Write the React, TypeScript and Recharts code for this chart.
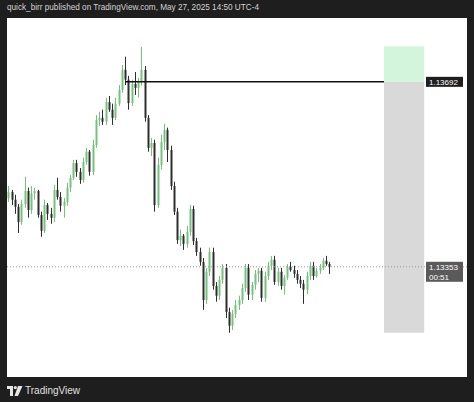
import React from "react"
import { ComposedChart, Bar, XAxis, YAxis, ReferenceArea, ReferenceLine } from "recharts"

// EURUSD-style 1m candles, bar index -> OHLC
const open = [
  1.13479, 1.1349, 1.13476, 1.13463, 1.13435, 1.13468, 1.13492, 1.13457, 1.13488, 1.13492,
  1.13448, 1.13419, 1.13466, 1.1345, 1.13443, 1.13494, 1.13481, 1.13465, 1.13472, 1.13498,
  1.13516, 1.13543, 1.13527, 1.13512, 1.13545, 1.13564, 1.13527, 1.13576, 1.13622, 1.13626,
  1.13619, 1.13655, 1.13641, 1.13626, 1.13652, 1.13677, 1.13714, 1.13696, 1.13653, 1.13688,
  1.13681, 1.13692, 1.13714, 1.13626, 1.13571, 1.1358, 1.13466, 1.1354, 1.13582, 1.13604,
  1.13567, 1.13501, 1.13454, 1.13402, 1.1341, 1.13395, 1.13417, 1.13459, 1.134, 1.1338,
  1.13362, 1.13292, 1.13344, 1.1338, 1.13318, 1.133, 1.13329, 1.13351, 1.1327, 1.13245,
  1.13267, 1.13283, 1.13292, 1.13314, 1.13351, 1.13302, 1.1332, 1.1334, 1.13346, 1.13296,
  1.13336, 1.13355, 1.13366, 1.13325, 1.13344, 1.13318, 1.13333, 1.13353, 1.13347, 1.1334,
  1.13329, 1.13322, 1.13311, 1.13336, 1.13355, 1.13336, 1.13346, 1.13351, 1.13364, 1.13358,
]
const high = [
  1.13501, 1.13494, 1.13485, 1.13468, 1.13476, 1.13518, 1.13498, 1.13501, 1.13498, 1.13494,
  1.13454, 1.13476, 1.1347, 1.13461, 1.13503, 1.13516, 1.1349, 1.13479, 1.13507, 1.13521,
  1.13549, 1.13549, 1.13534, 1.13553, 1.13571, 1.13567, 1.13586, 1.13631, 1.13637, 1.13641,
  1.13663, 1.13666, 1.13652, 1.13663, 1.13686, 1.13723, 1.13738, 1.13703, 1.13696, 1.1371,
  1.13699, 1.13756, 1.13721, 1.13631, 1.13589, 1.13586, 1.13553, 1.13595, 1.13615, 1.13608,
  1.13575, 1.13509, 1.13461, 1.13421, 1.13413, 1.13428, 1.13466, 1.13465, 1.13406, 1.13388,
  1.13369, 1.13351, 1.13388, 1.13388, 1.13325, 1.13336, 1.13358, 1.13358, 1.13278, 1.13274,
  1.13292, 1.133, 1.13322, 1.13358, 1.13358, 1.13325, 1.13347, 1.13351, 1.13351, 1.13344,
  1.13362, 1.13373, 1.13373, 1.13351, 1.13351, 1.13338, 1.13358, 1.13362, 1.13355, 1.13347,
  1.13336, 1.13329, 1.13344, 1.13362, 1.13362, 1.13351, 1.13358, 1.13369, 1.13373, 1.13362,
]
const low = [
  1.13472, 1.13466, 1.1345, 1.13415, 1.1343, 1.13461, 1.13443, 1.1345, 1.13476, 1.13443,
  1.13408, 1.13415, 1.13439, 1.13432, 1.13435, 1.13476, 1.13454, 1.13443, 1.13465, 1.1349,
  1.13512, 1.13518, 1.13505, 1.13507, 1.1354, 1.1352, 1.13521, 1.13571, 1.13611, 1.13613,
  1.13613, 1.13637, 1.13613, 1.13622, 1.13648, 1.13672, 1.13686, 1.13641, 1.13648, 1.13668,
  1.13663, 1.13685, 1.13619, 1.13564, 1.13556, 1.13454, 1.13461, 1.13531, 1.13567, 1.13545,
  1.13494, 1.13448, 1.13395, 1.13391, 1.13384, 1.13388, 1.1341, 1.13393, 1.13373, 1.13355,
  1.13274, 1.13285, 1.13336, 1.13311, 1.13289, 1.13292, 1.13322, 1.13259, 1.13232, 1.13237,
  1.13259, 1.13274, 1.13285, 1.13307, 1.13292, 1.13292, 1.13311, 1.13325, 1.13289, 1.13289,
  1.13329, 1.13347, 1.1332, 1.13318, 1.13311, 1.13302, 1.13329, 1.13344, 1.13333, 1.13322,
  1.13314, 1.13285, 1.13303, 1.13329, 1.13329, 1.13333, 1.1334, 1.13347, 1.13355, 1.1334,
]
const close = [
  1.1349, 1.13476, 1.13463, 1.13435, 1.13468, 1.13492, 1.13457, 1.13488, 1.13492, 1.13448,
  1.13419, 1.13466, 1.1345, 1.13443, 1.13494, 1.13481, 1.13465, 1.13472, 1.13498, 1.13516,
  1.13543, 1.13527, 1.13512, 1.13545, 1.13564, 1.13527, 1.13576, 1.13622, 1.13626, 1.13619,
  1.13655, 1.13641, 1.13626, 1.13652, 1.13677, 1.13714, 1.13696, 1.13653, 1.13688, 1.13681,
  1.13692, 1.13714, 1.13626, 1.13571, 1.1358, 1.13466, 1.1354, 1.13582, 1.13604, 1.13567,
  1.13501, 1.13454, 1.13402, 1.1341, 1.13395, 1.13417, 1.13459, 1.134, 1.1338, 1.13362,
  1.13292, 1.13344, 1.1338, 1.13318, 1.133, 1.13329, 1.13351, 1.1327, 1.13245, 1.13267,
  1.13283, 1.13292, 1.13314, 1.13351, 1.13302, 1.1332, 1.1334, 1.13346, 1.13296, 1.13336,
  1.13355, 1.13366, 1.13325, 1.13344, 1.13318, 1.13333, 1.13353, 1.13347, 1.1334, 1.13329,
  1.13322, 1.13311, 1.13336, 1.13355, 1.13336, 1.13346, 1.13351, 1.13364, 1.13358, 1.13353,
]

// long position tool
const ENTRY = 1.13692
const TARGET = 1.13757
const STOP = 1.13232
const POS_FROM = 115.8
const POS_TO = 128.2
const LINE_FROM = 36
const LAST_PRICE = 1.13353
const COUNTDOWN = "00:51"

const HEADER = "quick_birr published on TradingView.com, May 27, 2025 14:50 UTC-4"

const data = close.map((c, i) => ({
  i,
  open: open[i],
  high: high[i],
  low: low[i],
  close: c,
}))

const UP = "#72c47a"
const DOWN = "#2e2e2e"
const FONT = "'Liberation Sans', Arial, sans-serif"

const Candle = (props: any) => {
  const { x, y, width, height, payload } = props
  const { open: o, high: h, low: l, close: c } = payload
  const range = h - l || 1e-9
  const cx = Math.round(x + width / 2)
  const top = y + ((h - Math.max(o, c)) / range) * height
  const bot = y + ((h - Math.min(o, c)) / range) * height
  const color = c >= o ? UP : DOWN
  return (
    <g>
      <line x1={cx + 0.5} x2={cx + 0.5} y1={y} y2={y + height} stroke={color} strokeWidth={1} />
      <rect x={cx - 0.5} y={top} width={2} height={Math.max(bot - top, 1)} fill={color} />
    </g>
  )
}

const PriceTag = ({ viewBox, lines, bg }: any) => {
  const { x, y, width } = viewBox
  const left = x + width - 41
  const h = lines.length * 10
  const top = y - 5
  return (
    <g>
      <rect x={left} y={top} width={37} height={h} fill={bg} />
      {lines.map((t: string, k: number) => (
        <text
          key={k}
          x={left + 3}
          y={top + 8 + k * 10}
          fill="#ffffff"
          fontSize={8}
          fontFamily={FONT}
        >
          {t}
        </text>
      ))}
    </g>
  )
}

const Logo = () => (
  <svg width={16} height={10} viewBox="0 0 16 10">
    <path d="M0 0 H6 V10 H3 V3 H0 Z" fill="#e6e6e6" />
    <circle cx={8.3} cy={1.6} r={1.6} fill="#e6e6e6" />
    <path d="M11 0 H15.5 L11 10 H7.5 Z" fill="#e6e6e6" />
  </svg>
)

export default function App() {
  return (
    <div
      style={{
        position: "absolute",
        left: 0,
        top: 0,
        width: 474,
        height: 402,
        background: "#1e1e1e",
        overflow: "hidden",
      }}
    >
      <div
        style={{
          position: "absolute",
          left: 7,
          top: 3,
          fontFamily: FONT,
          fontSize: 8.2,
          color: "#d4d4d4",
          whiteSpace: "nowrap",
        }}
      >
        {HEADER}
      </div>
      <div style={{ position: "absolute", left: 7, top: 18, width: 460, height: 359, background: "#ffffff" }}>
        <ComposedChart width={460} height={359} data={data} margin={{ top: 0, right: 0, bottom: 0, left: 0 }}>
          <XAxis dataKey="i" type="number" domain={[-0.463, 141.4]} hide />
          <YAxis type="number" domain={[1.13151, 1.13809]} hide allowDataOverflow />
          <ReferenceLine y={LAST_PRICE} stroke="#9a9a9a" strokeDasharray="1 2" />
          <Bar
            dataKey={(d: any) => [d.low, d.high]}
            barSize={3}
            shape={Candle}
            isAnimationActive={false}
          />
          <ReferenceArea x1={POS_FROM} x2={POS_TO} y1={ENTRY} y2={TARGET} fill="#d2f5dc" fillOpacity={1} stroke="none" />
          <ReferenceArea x1={POS_FROM} x2={POS_TO} y1={STOP} y2={ENTRY} fill="#d9d9d9" fillOpacity={1} stroke="none" />
          <ReferenceLine
            segment={[
              { x: LINE_FROM, y: ENTRY },
              { x: POS_FROM, y: ENTRY },
            ]}
            stroke="#111111"
            strokeWidth={1.5}
          />
          <ReferenceLine
            y={ENTRY}
            stroke="none"
            label={(p: any) => <PriceTag {...p} lines={[ENTRY.toFixed(5)]} bg="#1e1e1e" />}
          />
          <ReferenceLine
            y={LAST_PRICE}
            stroke="none"
            label={(p: any) => <PriceTag {...p} lines={[LAST_PRICE.toFixed(5), COUNTDOWN]} bg="#5a5a5a" />}
          />
        </ComposedChart>
      </div>
      <div style={{ position: "absolute", left: 7, top: 386, display: "flex", alignItems: "center", gap: 2 }}>
        <Logo />
        <span style={{ fontFamily: FONT, fontSize: 10, color: "#e0e0e0", lineHeight: "10px" }}>TradingView</span>
      </div>
    </div>
  )
}
